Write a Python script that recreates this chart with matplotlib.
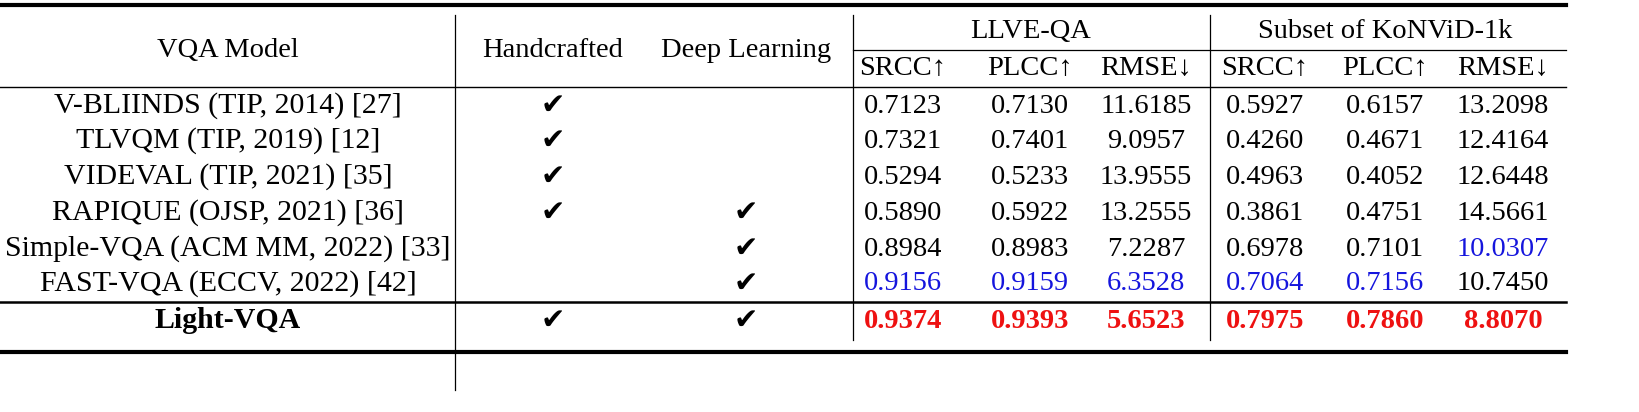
import matplotlib
matplotlib.use("Agg")
import matplotlib.pyplot as plt

models = ["V-BLIINDS (TIP, 2014) [27]", "TLVQM (TIP, 2019) [12]", "VIDEVAL (TIP, 2021) [35]",
          "RAPIQUE (OJSP, 2021) [36]", "Simple-VQA (ACM MM, 2022) [33]", "FAST-VQA (ECCV, 2022) [42]",
          "Light-VQA"]
handcrafted = [1, 1, 1, 1, 0, 0, 1]
deep = [0, 0, 0, 1, 1, 1, 1]
llve_srcc = [0.7123, 0.7321, 0.5294, 0.5890, 0.8984, 0.9156, 0.9374]
llve_plcc = [0.7130, 0.7401, 0.5233, 0.5922, 0.8983, 0.9159, 0.9393]
llve_rmse = [11.6185, 9.0957, 13.9555, 13.2555, 7.2287, 6.3528, 5.6523]
kon_srcc = [0.5927, 0.4260, 0.4963, 0.3861, 0.6978, 0.7064, 0.7975]
kon_plcc = [0.6157, 0.4671, 0.4052, 0.4751, 0.7101, 0.7156, 0.7860]
kon_rmse = [13.2098, 12.4164, 12.6448, 14.5661, 10.0307, 10.7450, 8.8070]
metrics = ["SRCC↑", "PLCC↑", "RMSE↓"]

fig = plt.figure(figsize=(16.4, 4.12), dpi=100)
ax = fig.add_axes([0, 0, 1, 1])
ax.set_xlim(0, 1640); ax.set_ylim(412, 0); ax.axis("off")
serif = ["Liberation Serif", "DejaVu Serif"]
chk = ["DejaVu Sans"]
fs = 20.5

def t(x, y, s, **kw):
    kw.setdefault("fontsize", fs)
    kw.setdefault("family", serif)
    ax.text(x, y, s, ha="center", va="center", **kw)

# rules
ax.plot([0, 1566], [5, 5], color="black", lw=3)
ax.plot([0, 1566], [87, 87], color="black", lw=1)
ax.plot([0, 1566], [302, 302], color="black", lw=1.8)
ax.plot([0, 1566], [352, 352], color="black", lw=3)
ax.plot([853, 1566], [50, 50], color="black", lw=0.9)
ax.plot([455, 455], [15, 390], color="black", lw=0.9)
ax.plot([853, 853], [15, 340], color="black", lw=0.9)
ax.plot([1210, 1210], [15, 340], color="black", lw=0.9)

t(228, 50, "VQA Model")
t(553, 50, "Handcrafted")
t(746, 50, "Deep Learning")
t(1031, 31, "LLVE-QA")
t(1385, 31, "Subset of KoNViD-1k")
mx = [903, 1030, 1146, 1265, 1385, 1503]
for i, x in enumerate(mx):
    t(x, 68, metrics[i % 3])

cols = [llve_srcc, llve_plcc, llve_rmse, kon_srcc, kon_plcc, kon_rmse]
ys = [106, 141, 177, 213, 249, 284, 321]
for r, y in enumerate(ys):
    last = r == len(ys) - 1
    t(228, y, models[r], fontweight="bold" if last else "normal", fontsize=21.5)
    if handcrafted[r]:
        t(553, y, "✔", family=chk, fontsize=21)
    if deep[r]:
        t(746, y, "✔", family=chk, fontsize=21)
    for c, col in enumerate(cols):
        lower = (c % 3 == 2)
        order = sorted(range(len(col)), key=lambda k: col[k], reverse=not lower)
        color, weight = "black", "normal"
        if r == order[0]:
            color, weight = "#ee1111", "bold"
        elif r == order[1]:
            color = "#1515dd"
        t(mx[c], y, f"{col[r]:.4f}", color=color, fontweight=weight)

fig.savefig("out.png", dpi=100)
